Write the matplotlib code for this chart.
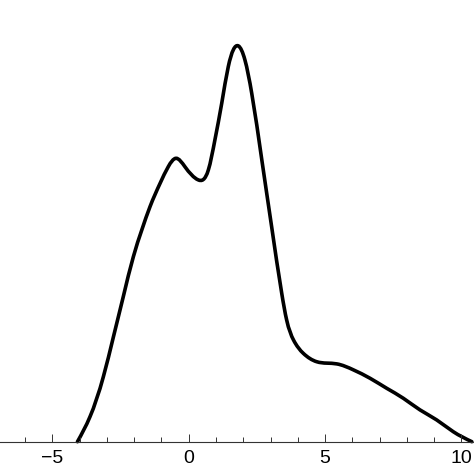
import matplotlib
matplotlib.use('Agg')
import matplotlib.pyplot as plt
import numpy as np
from matplotlib.path import Path
from matplotlib.patches import PathPatch
from matplotlib.ticker import MultipleLocator

# values (x, density)
x_vals = [-4.08, -3.62, -3.13, -2.76, -2.40, -2.03, -1.72, -1.42, -1.05, -0.75,
          -0.47, -0.14, 0.35, 0.72, 0.96, 1.21, 1.45, 1.82, 2.06, 2.31,
          2.68, 3.04, 3.41, 3.59, 3.84, 4.20, 4.69, 5.43, 6.04, 6.65,
          7.26, 7.87, 8.48, 9.09, 9.70, 10.38]
y_vals = [0.0, 0.0125, 0.0325, 0.0525, 0.0725, 0.0925, 0.1059, 0.1175, 0.1292, 0.1375,
          0.1417, 0.1375, 0.1309, 0.1359, 0.1509, 0.1692, 0.1875, 0.1979, 0.1909, 0.1742,
          0.1409, 0.1075, 0.0742, 0.0609, 0.0509, 0.0442, 0.0400, 0.0389, 0.0359, 0.0317,
          0.0267, 0.0217, 0.0159, 0.0109, 0.0050, 0.0]

major_ticks = [-5, 0, 5, 10]
tick_labels = ['\u22125', '0', '5', '10']


def smooth_path(xs, ys):
    """Bezier path through the points (natural cubic spline tangents)."""
    xs = np.asarray(xs, float)
    ys = np.asarray(ys, float)
    n = len(xs)
    h = np.diff(xs)
    d = np.diff(ys) / h
    A = np.zeros((n, n))
    b = np.zeros(n)
    A[0, 0] = A[-1, -1] = 1.0
    for i in range(1, n - 1):
        A[i, i - 1] = h[i - 1]
        A[i, i] = 2 * (h[i - 1] + h[i])
        A[i, i + 1] = h[i]
        b[i] = 6 * (d[i] - d[i - 1])
    M = np.linalg.solve(A, b)
    verts = [(xs[0], ys[0])]
    codes = [Path.MOVETO]
    for i in range(n - 1):
        m0 = d[i] - h[i] * (2 * M[i] + M[i + 1]) / 6
        m1 = d[i] + h[i] * (M[i] + 2 * M[i + 1]) / 6
        k = h[i] / 3
        verts += [(xs[i] + k, ys[i] + k * m0),
                  (xs[i + 1] - k, ys[i + 1] - k * m1),
                  (xs[i + 1], ys[i + 1])]
        codes += [Path.CURVE4] * 3
    return Path(verts, codes)


plt.rcParams['font.family'] = ['Liberation Sans', 'DejaVu Sans']

fig = plt.figure(figsize=(4.74, 4.74), dpi=100)
ax = fig.add_axes([0, 0, 1, 1])
ax.set_xlim(-6.92, 10.46)
ax.set_ylim(-0.01615, 0.22085)

curve = PathPatch(smooth_path(x_vals, y_vals), fill=False, edgecolor='black',
                  linewidth=2.6, capstyle='round', joinstyle='round', clip_on=False)
ax.add_patch(curve)

for s in ['top', 'right', 'left']:
    ax.spines[s].set_visible(False)
ax.spines['bottom'].set_position(('data', 0))
ax.spines['bottom'].set_color('#333333')
ax.spines['bottom'].set_linewidth(0.8)

ax.set_xticks(major_ticks)
ax.set_xticklabels(tick_labels)
ax.xaxis.set_minor_locator(MultipleLocator(1))
ax.tick_params(axis='x', which='major', direction='in', length=6, width=0.7,
               labelsize=14, pad=6, color='#333333')
ax.tick_params(axis='x', which='minor', direction='in', length=3.6, width=0.7,
               color='#333333')
ax.set_yticks([])

fig.savefig('out.png', dpi=100, facecolor='white')
